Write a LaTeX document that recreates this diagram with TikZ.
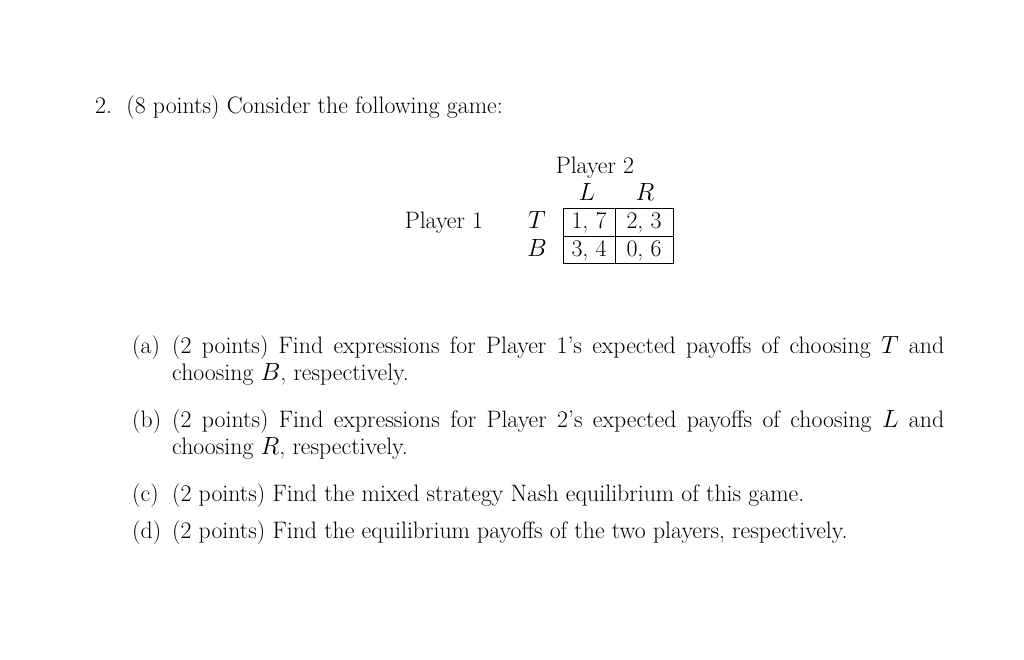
\documentclass[tikz,border=0pt]{standalone}
\begin{document}
\begin{tikzpicture}[x=1pt,y=-1pt,every node/.style={inner sep=0pt,anchor=base west,font=\fontsize{23.8}{28}\selectfont},c/.style={anchor=base}]
\useasboundingbox (0,0) rectangle (1024,659);
\node (title) at (95,113) {2.\ \ (8 points) Consider the following game:};
\node[c] (p2) at (595,173) {Player 2};
\node[c] (L) at (587,200) {$L$};
\node[c] (R) at (645,200) {$R$};
\node[c] (p1) at (444,228) {Player 1};
\node[c] (T) at (537,228) {$T$};
\node[c] (B) at (537,256) {$B$};
\draw[line width=0.9pt] (563,208) rectangle (673,263);
\draw[line width=0.9pt] (563,236) -- (673,236);
\draw[line width=0.9pt] (615,208) -- (615,263);
\node[c] (c11) at (589,228) {1, 7};
\node[c] (c12) at (644,228) {2, 3};
\node[c] (c21) at (589,256) {3, 4};
\node[c] (c22) at (644,256) {0, 6};
\node (a) at (132,353) {(a)};
\node (a1) at (172,353) {\hbox to 772pt{(2 points) Find expressions for Player 1's expected payoffs of choosing $T$ and}};
\node (a2) at (172,380) {choosing $B$, respectively.};
\node (b) at (132,427) {(b)};
\node (b1) at (172,427) {\hbox to 772pt{(2 points) Find expressions for Player 2's expected payoffs of choosing $L$ and}};
\node (b2) at (172,454) {choosing $R$, respectively.};
\node (c) at (132,501) {(c)};
\node (c1) at (172,501) {(2 points) Find the mixed strategy Nash equilibrium of this game.};
\node (d) at (132,538) {(d)};
\node (d1) at (172,538) {(2 points) Find the equilibrium payoffs of the two players, respectively.};
\end{tikzpicture}
\end{document}
